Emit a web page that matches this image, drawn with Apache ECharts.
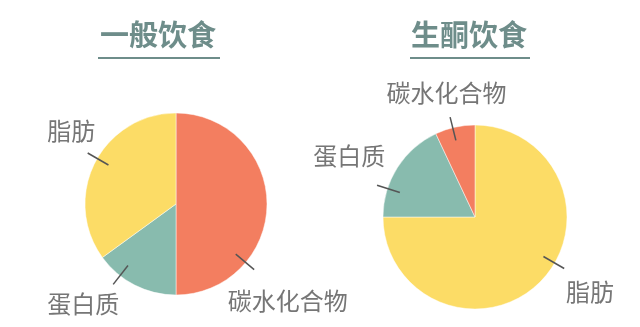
<!DOCTYPE html>
<html>
<head>
<meta charset="utf-8">
<script src="https://cdn.jsdelivr.net/npm/echarts@6/dist/echarts.min.js"></script>
<style>
  html, body { margin: 0; padding: 0; background: #ffffff; }
  #chart { width: 640px; height: 327px; }
</style>
</head>
<body>
<div id="chart"></div>
<script>
// ---- data ----
var chartTitles = ['一般饮食', '生酮饮食'];
var nutrients = ['碳水化合物', '蛋白质', '脂肪'];
// percentages, in the order of `nutrients`
var normalDiet = [50, 15, 35];
var ketoDiet = [7, 18, 75];
// clockwise drawing order (from 12 o'clock) for each pie
var normalOrder = ['碳水化合物', '蛋白质', '脂肪'];
var ketoOrder = ['脂肪', '蛋白质', '碳水化合物'];

// ---- styles / layout ----
var nutrientColors = { '碳水化合物': '#F37E60', '蛋白质': '#88BBAE', '脂肪': '#FCDC66' };
var FONT = '"Noto Sans CJK SC", "Noto Sans", sans-serif';
var TITLE_COLOR = '#6E8D8A';
var LABEL_COLOR = '#767676';
var pieCenters = [[176, 204], [475, 217]];
var pieRadii = [91, 92];
// leader line direction (deg clockwise from 12 o'clock) and label placement
// (direction deg, distance from pie centre) for each nutrient
var leaderAngles = [
  { '碳水化合物': 130, '蛋白质': 218, '脂肪': 300 },
  { '碳水化合物': 346, '蛋白质': 288, '脂肪': 120 }
];
var labelPlacement = [
  { '碳水化合物': [131, 148], '蛋白质': [223, 136], '脂肪': [305, 128] },
  { '碳水化合物': [347, 127], '蛋白质': [296, 140], '脂肪': [123, 137] }
];
var LINE_INSET = 13;   // leader starts this far inside the pie edge
var LINE_OUT = 11;     // leader ends this far outside the pie edge

function buildData(values, order, colored) {
  return order.map(function (name) {
    var i = nutrients.indexOf(name);
    return {
      name: name,
      value: values[i],
      itemStyle: colored ? { color: nutrientColors[name] } : { color: 'rgba(0,0,0,0)', borderWidth: 0 }
    };
  });
}

function polar(c, deg, dist) {
  var a = deg * Math.PI / 180;
  return [c[0] + Math.sin(a) * dist, c[1] - Math.cos(a) * dist];
}

function makeLayout(pieIndex, order) {
  return function (params) {
    var name = order[params.dataIndex];
    var c = pieCenters[pieIndex], r = pieRadii[pieIndex];
    var ang = leaderAngles[pieIndex][name];
    var a = polar(c, ang, r - LINE_INSET);
    var b = polar(c, ang, r + LINE_OUT);
    var lp = labelPlacement[pieIndex][name];
    var p = polar(c, lp[0], lp[1]);
    return {
      x: p[0],
      y: p[1],
      align: 'center',
      verticalAlign: 'middle',
      labelLinePoints: [a, b, [b[0], b[1]]]
    };
  };
}

// filled pie (no labels)
function pieSeries(pieIndex, values, order) {
  return {
    type: 'pie',
    z: 2,
    center: pieCenters[pieIndex],
    radius: pieRadii[pieIndex],
    startAngle: 90,
    clockwise: true,
    silent: true,
    animation: false,
    itemStyle: { borderColor: 'rgba(255,255,255,0.6)', borderWidth: 0.8 },
    label: { show: false },
    labelLine: { show: false },
    data: buildData(values, order, true)
  };
}

// transparent overlay carrying the names and leader lines above the slices
function labelSeries(pieIndex, values, order) {
  return {
    type: 'pie',
    z: 3,
    center: pieCenters[pieIndex],
    radius: pieRadii[pieIndex],
    startAngle: 90,
    clockwise: true,
    avoidLabelOverlap: false,
    silent: true,
    animation: false,
    label: {
      show: true,
      position: 'outside',
      formatter: '{b}',
      color: LABEL_COLOR,
      fontFamily: FONT,
      fontSize: 24,
      fontWeight: 'normal'
    },
    labelLine: {
      show: true,
      showAbove: true,
      length: 11,
      length2: 0,
      smooth: false,
      lineStyle: { color: '#555555', width: 1.5 }
    },
    labelLayout: makeLayout(pieIndex, order),
    data: buildData(values, order, false)
  };
}

var chart = echarts.init(document.getElementById('chart'), null, { renderer: 'canvas' });
chart.setOption({
  backgroundColor: '#ffffff',
  animation: false,
  title: [
    {
      text: chartTitles[0], left: 158, top: 20, padding: 0, textAlign: 'center',
      textStyle: { color: TITLE_COLOR, fontFamily: FONT, fontSize: 29, fontWeight: 'bold' }
    },
    {
      text: chartTitles[1], left: 469, top: 20, padding: 0, textAlign: 'center',
      textStyle: { color: TITLE_COLOR, fontFamily: FONT, fontSize: 29, fontWeight: 'bold' }
    }
  ],
  graphic: [
    { type: 'line', shape: { x1: 98, y1: 58, x2: 220, y2: 58 }, style: { stroke: TITLE_COLOR, lineWidth: 2 }, silent: true },
    { type: 'line', shape: { x1: 410, y1: 58, x2: 530, y2: 58 }, style: { stroke: TITLE_COLOR, lineWidth: 2 }, silent: true }
  ],
  series: [
    pieSeries(0, normalDiet, normalOrder),
    pieSeries(1, ketoDiet, ketoOrder),
    labelSeries(0, normalDiet, normalOrder),
    labelSeries(1, ketoDiet, ketoOrder)
  ]
});
</script>
</body>
</html>
